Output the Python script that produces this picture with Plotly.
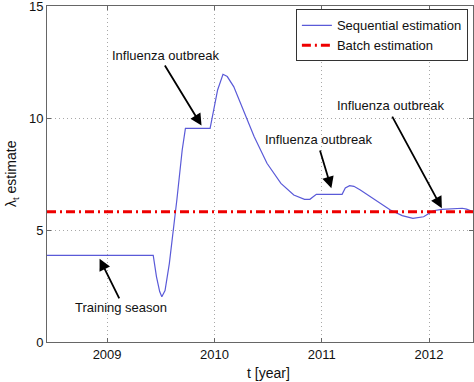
import plotly.graph_objects as go

# Sequential estimation
seq_t = [2008.44, 2009.43, 2009.46, 2009.49, 2009.51, 2009.54, 2009.58, 2009.62, 2009.65,
         2009.70, 2009.73, 2009.96, 2009.99, 2010.03, 2010.08, 2010.12, 2010.18, 2010.27,
         2010.37, 2010.49, 2010.62, 2010.74, 2010.84, 2010.89, 2010.92, 2010.95, 2011.19,
         2011.22, 2011.26, 2011.30, 2011.36, 2011.50, 2011.64, 2011.75, 2011.85, 2011.95,
         2012.04, 2012.12, 2012.20, 2012.26, 2012.31, 2012.35, 2012.41]
seq_val = [3.87, 3.87, 2.92, 2.25, 2.02, 2.3, 3.5, 5.0, 6.34,
           8.57, 9.54, 9.54, 10.28, 11.25, 11.95, 11.85, 11.4, 10.36,
           9.17, 7.98, 7.08, 6.56, 6.37, 6.37, 6.5, 6.59, 6.59,
           6.88, 6.98, 6.95, 6.79, 6.35, 5.89, 5.64, 5.52, 5.59,
           5.86, 5.92, 5.93, 5.94, 5.97, 5.93, 5.82]

# Batch estimation
batch_t = [2008.44, 2012.41]
batch_val = [5.82, 5.82]

x_ticks = [2009, 2010, 2011, 2012]
y_ticks = [0, 5, 10, 15]

# Annotations: (text, text_x, text_y, tail_x, tail_y, head_x, head_y)
notes = [
    ("Influenza outbreak", 2009.54, 12.81, 2009.53, 12.41, 2009.88, 9.66),
    ("Influenza outbreak", 2010.97, 9.02, 2010.98, 8.62, 2011.09, 6.86),
    ("Influenza outbreak", 2011.64, 10.54, 2011.65, 10.13, 2012.12, 5.97),
    ("Training season", 2009.13, 1.55, 2009.12, 1.88, 2008.93, 3.72),
]

FONT = "Liberation Sans, Arial, Helvetica, sans-serif"

fig = go.Figure()
fig.add_trace(go.Scatter(x=seq_t, y=seq_val, mode="lines", name="Sequential estimation",
                         line=dict(color="#5a5ad8", width=1.2)))
fig.add_trace(go.Scatter(x=batch_t, y=batch_val, mode="lines", name="Batch estimation",
                         line=dict(color="#ee0000", width=3, dash="9px,4px,2px,4px")))

for txt, tx, ty, ax_, ay_, hx, hy in notes:
    fig.add_annotation(x=tx, y=ty, text=txt, showarrow=False, xref="x", yref="y",
                       font=dict(size=13, color="#111", family=FONT))
    fig.add_annotation(x=hx, y=hy, ax=ax_, ay=ay_, axref="x", ayref="y", xref="x", yref="y",
                       text="", showarrow=True, arrowhead=2, arrowsize=1.3,
                       arrowwidth=1.8, arrowcolor="black")

fig.add_annotation(x=0.52, y=-0.092, xref="paper", yref="paper", text="t [year]",
                   showarrow=False, yanchor="middle", font=dict(size=14, color="#111", family=FONT))
fig.add_annotation(x=-0.082, y=0.5, xref="paper", yref="paper", text="λ<sub>t</sub> estimate",
                   showarrow=False, textangle=-90, xanchor="center", yanchor="middle",
                   font=dict(size=14, color="#111", family=FONT))

axis_common = dict(showline=True, linecolor="#666", linewidth=1, mirror="ticks",
                   ticks="inside", ticklen=4, tickcolor="#666", showgrid=True,
                   gridcolor="#a8a8a8", griddash="1px,3px", gridwidth=1, zeroline=False,
                   automargin=False, ticklabeloverflow="allow",
                   tickfont=dict(size=13, color="#111", family=FONT))

fig.update_layout(
    width=474, height=382,
    margin=dict(l=47, r=1, t=6, b=40),
    paper_bgcolor="white", plot_bgcolor="white",
    font=dict(family=FONT, size=13, color="#111"),
    xaxis=dict(range=[2008.44, 2012.41], tickvals=x_ticks, **axis_common),
    yaxis=dict(range=[0, 15], tickvals=y_ticks, **axis_common),
    legend=dict(x=0.988, y=0.99, xanchor="right", yanchor="top",
                bordercolor="#333", borderwidth=1, bgcolor="white",
                font=dict(size=13, family=FONT), tracegroupgap=0),
    showlegend=True,
)

fig.write_html("out.html", config={"displayModeBar": False},
               post_script="document.body.style.margin='0';")
